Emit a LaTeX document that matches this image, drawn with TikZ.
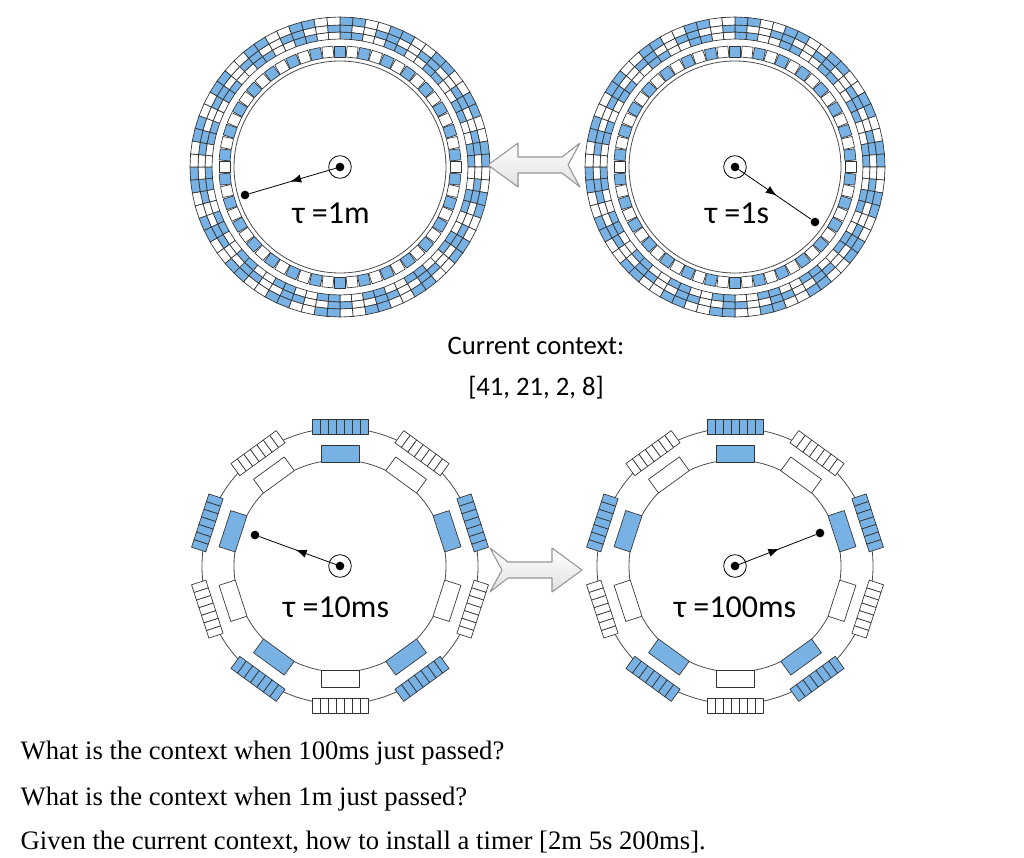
\documentclass[tikz,border=0pt]{standalone}
\usepackage{fontspec}
\setmainfont{Liberation Serif}
\newfontfamily\labelfont{Carlito}
\usetikzlibrary{positioning}
\definecolor{slotblue}{RGB}{120,178,228}
\definecolor{arrowgray}{RGB}{150,150,150}
\tikzset{every picture/.style={line join=round},
         cell/.style={draw=black!80,line width=0.5pt},
         rim/.style={draw=black!70,line width=0.6pt},
         hub/.style={circle,draw,line width=0.6pt,minimum size=17pt,inner sep=0pt},
         tip/.style={circle,fill=black,minimum size=6.5pt,inner sep=0pt},
         tau/.style={font=\labelfont\fontsize{24}{28}\selectfont},
         question/.style={anchor=west,font=\fontsize{20}{24}\selectfont},
         hand/.style={line width=0.6pt,postaction={decorate}},
         fatarrow/.style={draw=arrowgray,line width=0.8pt,top color=white,bottom color=black!12}}
\usetikzlibrary{decorations.markings}
\tikzset{hand/.append style={decoration={markings,mark=at position 0.55 with {\arrow[scale=1.8]{latex}}}}}

% fat arrow with notched tail, pointing along +x before rotation
\newcommand{\fatarrow}[3]{%
  \path[fatarrow,shift={#1},rotate=#2]
    (46,0) -- (16,22) -- (16,8) -- (-28,8) -- (-46,22) -- (-34,0)
    -- (-46,-22) -- (-28,-8) -- (16,-8) -- (16,-22) -- cycle;}

% slow wheel: ring of squares and a three-layer band
\newcommand{\slowwheel}[1]{%
  \begin{scope}[shift={#1}]
    \draw[rim] (0,0) circle (106);
    \foreach \i in {0,...,59}{
      \pgfmathsetmacro{\a}{-90+6*\i}
      \pgfmathparse{mod(\i,2)==0 ? "slotblue" : "white"}
      \edef\col{\pgfmathresult}
      \draw[cell,fill=\col,rotate=\a+90] (-5.5,-110) rectangle (5.5,-121);
    }
    \foreach \i in {0,...,71}{
      \pgfmathsetmacro{\a}{-90+5*\i}
      \pgfmathsetmacro{\b}{\a+5}
      \pgfmathparse{mod(\i,4)<2 ? "slotblue" : "white"}
      \edef\col{\pgfmathresult}
      \pgfmathparse{mod(\i+1,4)<2 ? "slotblue" : "white"}
      \edef\colb{\pgfmathresult}
      \draw[cell,fill=\col] (\a:128) -- (\b:128) -- (\b:135) -- (\a:135) -- cycle;
      \draw[cell,fill=\colb] (\a:135) -- (\b:135) -- (\b:142) -- (\a:142) -- cycle;
      \draw[cell,fill=\col] (\a:142) -- (\b:142) -- (\b:150) -- (\a:150) -- cycle;
    }
  \end{scope}}

% fast wheel: ten slots, inner block and seven-cell bucket
\newcommand{\fastwheel}[1]{%
  \begin{scope}[shift={#1}]
    \draw[rim] (0,0) circle (106);
    \draw[rim] (0,0) circle (138);
    \foreach \k in {0,...,9}{
      \pgfmathparse{mod(\k,2)==0 ? "slotblue" : "white"}
      \edef\col{\pgfmathresult}
      \begin{scope}[rotate=36*\k]
        \draw[cell,fill=\col] (-19,-104) rectangle (19,-121);
        \foreach \j in {0,...,6}
          \draw[cell,fill=\col] (-28+8*\j,-132) rectangle (-20+8*\j,-147);
      \end{scope}
    }
  \end{scope}}

\begin{document}
\begin{tikzpicture}[x=0.75pt,y=-0.75pt]
  \useasboundingbox (0,0) rectangle (1024,857);

  % wheels
  \slowwheel{(340,167)}
  \slowwheel{(735,167)}
  \fastwheel{(340,566)}
  \fastwheel{(735,566)}

  % hubs and hands
  \node[hub] (minute) at (340,167) {};
  \node[hub] (second) at (735,167) {};
  \node[hub] (tenms) at (340,566) {};
  \node[hub] (hundredms) at (735,566) {};
  \foreach \c in {minute,second,tenms,hundredms}
    \node[tip] at (\c) {};
  \node[tip] (minutetip) at (245,195) {};
  \node[tip] (secondtip) at (815,222) {};
  \node[tip] (tenmstip) at (255,535) {};
  \node[tip] (hundredmstip) at (820,533) {};
  \draw[hand] (minute.center) -- (minutetip);
  \draw[hand] (second.center) -- (secondtip);
  \draw[hand] (tenms.center) -- (tenmstip);
  \draw[hand] (hundredms.center) -- (hundredmstip);

  % labels
  \node[tau] (minutelabel) at (331,213) {τ =1m};
  \node[tau] (secondlabel) at (737,213) {τ =1s};
  \node[tau] (tenmslabel) at (336,607) {τ =10ms};
  \node[tau] (hundredmslabel) at (735,607) {τ =100ms};
  \node[font=\labelfont\fontsize{20}{31}\selectfont,align=center] (context) at (536,368)
    {Current context:\\{[41, 21, 2, 8]}};

  % carry arrows
  \fatarrow{(534,165)}{180}
  \fatarrow{(737,370)}{90}
  \fatarrow{(536,570)}{0}

  % questions
  \node[question] (qa) at (16,753) {What is the context when 100ms just passed?};
  \node[question] (qb) at (16,799) {What is the context when 1m just passed?};
  \node[question] (qc) at (16,842) {Given the current context, how to install a timer [2m 5s 200ms].};
\end{tikzpicture}
\end{document}
